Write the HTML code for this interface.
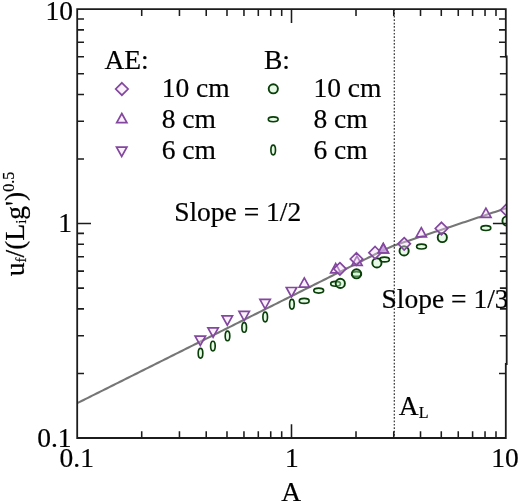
<!DOCTYPE html><html><head><meta charset="utf-8"><style>html,body{margin:0;padding:0;background:#fff;}svg{display:block}text{font-family:"Liberation Serif","Times New Roman",serif;fill:#000;stroke:#000;stroke-width:0.2px}</style></head><body>
<svg width="520" height="503" viewBox="0 0 520 503">
<defs><clipPath id="pa"><rect x="77.2" y="9.1" width="429.7" height="428.9"/></clipPath></defs>
<g clip-path="url(#pa)"><polyline points="77.20,403.18 79.34,402.11 81.49,401.04 83.63,399.97 85.77,398.90 87.92,397.82 90.06,396.75 92.20,395.68 94.34,394.61 96.49,393.54 98.63,392.47 100.77,391.40 102.92,390.33 105.06,389.26 107.20,388.19 109.34,387.11 111.49,386.04 113.63,384.97 115.77,383.90 117.92,382.83 120.06,381.76 122.20,380.69 124.35,379.62 126.49,378.55 128.63,377.48 130.78,376.40 132.92,375.33 135.06,374.26 137.20,373.19 139.35,372.12 141.49,371.05 143.63,369.98 145.78,368.91 147.92,367.84 150.06,366.77 152.20,365.69 154.35,364.62 156.49,363.55 158.63,362.48 160.78,361.41 162.92,360.34 165.06,359.27 167.21,358.20 169.35,357.13 171.49,356.06 173.63,354.98 175.78,353.91 177.92,352.84 180.06,351.77 182.21,350.70 184.35,349.63 186.49,348.56 188.64,347.49 190.78,346.42 192.92,345.35 195.06,344.27 197.21,343.20 199.35,342.13 201.49,341.06 203.64,339.99 205.78,338.92 207.92,337.85 210.07,336.78 212.21,335.71 214.35,334.64 216.50,333.56 218.64,332.49 220.78,331.42 222.92,330.35 225.07,329.28 227.21,328.21 229.35,327.14 231.50,326.07 233.64,325.00 235.78,323.93 237.93,322.85 240.07,321.78 242.21,320.71 244.35,319.64 246.50,318.57 248.64,317.50 250.78,316.43 252.93,315.36 255.07,314.29 257.21,313.22 259.36,312.14 261.50,311.07 263.64,310.00 265.78,308.93 267.93,307.86 270.07,306.79 272.21,305.72 274.36,304.65 276.50,303.58 278.64,302.51 280.79,301.43 282.93,300.36 285.07,299.29 287.21,298.22 289.36,297.15 291.50,296.08 293.64,295.01 295.79,293.94 297.93,292.87 300.07,291.80 302.22,290.72 304.36,289.65 306.50,288.58 308.64,287.51 310.79,286.44 312.93,285.37 315.07,284.30 317.22,283.23 319.36,282.16 321.50,281.09 323.64,280.01 325.79,278.94 327.93,277.87 330.07,276.80 332.22,275.73 334.36,274.66 336.50,273.59 338.65,272.52 340.79,271.45 342.93,270.38 345.07,269.30 347.22,268.23 349.36,267.16 351.50,266.09 353.65,265.02 355.79,263.95 357.93,262.88 360.08,261.81 362.22,260.74 364.36,259.67 366.50,258.59 368.65,257.52 370.79,256.45 372.93,255.38 375.08,254.31 377.22,253.25 379.36,252.18 381.51,251.13 383.65,250.09 385.79,249.08 387.94,248.10 390.08,247.19 392.22,246.34 394.36,245.54 396.51,244.78 398.65,244.04 400.79,243.31 402.94,242.59 405.08,241.87 407.22,241.16 409.37,240.44 411.51,239.73 413.65,239.01 415.79,238.30 417.94,237.59 420.08,236.87 422.22,236.16 424.37,235.44 426.51,234.73 428.65,234.02 430.80,233.30 432.94,232.59 435.08,231.87 437.22,231.16 439.37,230.45 441.51,229.73 443.65,229.02 445.80,228.30 447.94,227.59 450.08,226.88 452.23,226.16 454.37,225.45 456.51,224.73 458.65,224.02 460.80,223.31 462.94,222.59 465.08,221.88 467.23,221.16 469.37,220.45 471.51,219.74 473.66,219.02 475.80,218.31 477.94,217.59 480.08,216.88 482.23,216.17 484.37,215.45 486.51,214.74 488.66,214.02 490.80,213.31 492.94,212.60 495.08,211.88 497.23,211.17 499.37,210.45 501.51,209.74 503.66,209.03 505.80,208.31" fill="none" stroke="#767676" stroke-width="2.1"/>
<line x1="394.3" y1="9.1" x2="394.3" y2="438.0" stroke="#333" stroke-width="1.2" stroke-dasharray="1.7 1.7"/>
<ellipse cx="200.5" cy="353.3" rx="2.3" ry="4.85" fill="#c4f2c4" fill-opacity="0.4" stroke="#0a3f0a" stroke-width="1.65"/>
<ellipse cx="212.9" cy="346.1" rx="2.3" ry="4.85" fill="#c4f2c4" fill-opacity="0.4" stroke="#0a3f0a" stroke-width="1.65"/>
<ellipse cx="227.5" cy="335.9" rx="2.3" ry="4.85" fill="#c4f2c4" fill-opacity="0.4" stroke="#0a3f0a" stroke-width="1.65"/>
<ellipse cx="244.2" cy="327.4" rx="2.3" ry="4.85" fill="#c4f2c4" fill-opacity="0.4" stroke="#0a3f0a" stroke-width="1.65"/>
<ellipse cx="265.2" cy="317" rx="2.3" ry="4.85" fill="#c4f2c4" fill-opacity="0.4" stroke="#0a3f0a" stroke-width="1.65"/>
<ellipse cx="291.9" cy="304.3" rx="2.3" ry="4.85" fill="#c4f2c4" fill-opacity="0.4" stroke="#0a3f0a" stroke-width="1.65"/>
<ellipse cx="304.2" cy="300.9" rx="4.9" ry="2.45" fill="#c4f2c4" fill-opacity="0.4" stroke="#0a3f0a" stroke-width="1.65"/>
<ellipse cx="318.7" cy="290.6" rx="4.9" ry="2.45" fill="#c4f2c4" fill-opacity="0.4" stroke="#0a3f0a" stroke-width="1.65"/>
<ellipse cx="335.6" cy="283.8" rx="4.9" ry="2.45" fill="#c4f2c4" fill-opacity="0.4" stroke="#0a3f0a" stroke-width="1.65"/>
<ellipse cx="356.5" cy="274" rx="4.9" ry="2.45" fill="#c4f2c4" fill-opacity="0.4" stroke="#0a3f0a" stroke-width="1.65"/>
<ellipse cx="384.5" cy="259.5" rx="4.9" ry="2.45" fill="#c4f2c4" fill-opacity="0.4" stroke="#0a3f0a" stroke-width="1.65"/>
<ellipse cx="421.5" cy="246.5" rx="4.9" ry="2.45" fill="#c4f2c4" fill-opacity="0.4" stroke="#0a3f0a" stroke-width="1.65"/>
<ellipse cx="485.9" cy="228" rx="4.9" ry="2.45" fill="#c4f2c4" fill-opacity="0.4" stroke="#0a3f0a" stroke-width="1.65"/>
<circle cx="340.3" cy="283.4" r="4.6" fill="#c4f2c4" fill-opacity="0.4" stroke="#0a3f0a" stroke-width="1.9"/>
<circle cx="356.5" cy="273.8" r="4.6" fill="#c4f2c4" fill-opacity="0.4" stroke="#0a3f0a" stroke-width="1.9"/>
<circle cx="376.9" cy="262.9" r="4.6" fill="#c4f2c4" fill-opacity="0.4" stroke="#0a3f0a" stroke-width="1.9"/>
<circle cx="404.1" cy="250.9" r="4.6" fill="#c4f2c4" fill-opacity="0.4" stroke="#0a3f0a" stroke-width="1.9"/>
<circle cx="442.3" cy="237.5" r="4.6" fill="#c4f2c4" fill-opacity="0.4" stroke="#0a3f0a" stroke-width="1.9"/>
<circle cx="507" cy="221" r="4.6" fill="#c4f2c4" fill-opacity="0.4" stroke="#0a3f0a" stroke-width="1.9"/>
<path d="M195.10 336.10L205.50 336.10L200.30 345.50Z" fill="#f3dcf7" fill-opacity="0.4" stroke="#83479f" stroke-width="1.7"/>
<path d="M207.90 327.80L218.30 327.80L213.10 337.20Z" fill="#f3dcf7" fill-opacity="0.4" stroke="#83479f" stroke-width="1.7"/>
<path d="M222.10 315.80L232.50 315.80L227.30 325.20Z" fill="#f3dcf7" fill-opacity="0.4" stroke="#83479f" stroke-width="1.7"/>
<path d="M239.00 311.40L249.40 311.40L244.20 320.80Z" fill="#f3dcf7" fill-opacity="0.4" stroke="#83479f" stroke-width="1.7"/>
<path d="M259.90 299.40L270.30 299.40L265.10 308.80Z" fill="#f3dcf7" fill-opacity="0.4" stroke="#83479f" stroke-width="1.7"/>
<path d="M286.30 287.50L296.70 287.50L291.50 296.90Z" fill="#f3dcf7" fill-opacity="0.4" stroke="#83479f" stroke-width="1.7"/>
<path d="M304.30 277.90L309.40 287.10L299.20 287.10Z" fill="#f3dcf7" fill-opacity="0.4" stroke="#83479f" stroke-width="1.7"/>
<path d="M335.70 263.60L340.80 272.80L330.60 272.80Z" fill="#f3dcf7" fill-opacity="0.4" stroke="#83479f" stroke-width="1.7"/>
<path d="M357.00 256.10L362.10 265.30L351.90 265.30Z" fill="#f3dcf7" fill-opacity="0.4" stroke="#83479f" stroke-width="1.7"/>
<path d="M383.30 243.60L388.40 252.80L378.20 252.80Z" fill="#f3dcf7" fill-opacity="0.4" stroke="#83479f" stroke-width="1.7"/>
<path d="M421.30 227.70L426.40 236.90L416.20 236.90Z" fill="#f3dcf7" fill-opacity="0.4" stroke="#83479f" stroke-width="1.7"/>
<path d="M485.90 208.20L491.00 217.40L480.80 217.40Z" fill="#f3dcf7" fill-opacity="0.4" stroke="#83479f" stroke-width="1.7"/>
<path d="M339.90 262.60L346.10 268.80L339.90 275.00L333.70 268.80Z" fill="#f3dcf7" fill-opacity="0.4" stroke="#83479f" stroke-width="1.7"/>
<path d="M356.50 252.80L362.70 259.00L356.50 265.20L350.30 259.00Z" fill="#f3dcf7" fill-opacity="0.4" stroke="#83479f" stroke-width="1.7"/>
<path d="M375.10 246.50L381.30 252.70L375.10 258.90L368.90 252.70Z" fill="#f3dcf7" fill-opacity="0.4" stroke="#83479f" stroke-width="1.7"/>
<path d="M404.20 237.60L410.40 243.80L404.20 250.00L398.00 243.80Z" fill="#f3dcf7" fill-opacity="0.4" stroke="#83479f" stroke-width="1.7"/>
<path d="M441.50 222.30L447.70 228.50L441.50 234.70L435.30 228.50Z" fill="#f3dcf7" fill-opacity="0.4" stroke="#83479f" stroke-width="1.7"/>
<path d="M506.80 203.80L513.00 210.00L506.80 216.20L500.60 210.00Z" fill="#f3dcf7" fill-opacity="0.4" stroke="#83479f" stroke-width="1.7"/>
<path d="M383.30 243.60L388.40 252.80L378.20 252.80Z" fill="#c39bd8" fill-opacity="0.85" stroke="#83479f" stroke-width="1.7"/>
</g>
<path d="M121.90 82.80L128.10 89.00L121.90 95.20L115.70 89.00Z" fill="#f3dcf7" fill-opacity="0.4" stroke="#83479f" stroke-width="1.7"/>
<path d="M121.80 113.50L126.90 122.70L116.70 122.70Z" fill="#f3dcf7" fill-opacity="0.4" stroke="#83479f" stroke-width="1.7"/>
<path d="M116.50 147.10L126.90 147.10L121.70 156.50Z" fill="#f3dcf7" fill-opacity="0.4" stroke="#83479f" stroke-width="1.7"/>
<circle cx="273.3" cy="88.8" r="4.6" fill="#c4f2c4" fill-opacity="0.4" stroke="#0a3f0a" stroke-width="1.9"/>
<ellipse cx="273.2" cy="119.3" rx="4.9" ry="2.45" fill="#c4f2c4" fill-opacity="0.4" stroke="#0a3f0a" stroke-width="1.65"/>
<ellipse cx="273.2" cy="150.0" rx="2.3" ry="4.85" fill="#c4f2c4" fill-opacity="0.4" stroke="#0a3f0a" stroke-width="1.65"/>
<path d="M77.2 9.1H505.8V56.5H506.7V364H505.8V438.0H77.2Z" fill="none" stroke="#1c1c1c" stroke-width="1.8" stroke-linejoin="miter"/>
<path d="M141.71 438.0v-6.8M141.71 9.1v6.8M77.2 373.44h6.8M505.8 373.44h-6.8M179.45 438.0v-6.8M179.45 9.1v6.8M77.2 335.68h6.8M506.7 335.68h-6.8M206.22 438.0v-6.8M206.22 9.1v6.8M77.2 308.89h6.8M506.7 308.89h-6.8M226.99 438.0v-6.8M226.99 9.1v6.8M77.2 288.11h6.8M506.7 288.11h-6.8M243.96 438.0v-6.8M243.96 9.1v6.8M77.2 271.13h6.8M506.7 271.13h-6.8M258.30 438.0v-6.8M258.30 9.1v6.8M77.2 256.77h6.8M506.7 256.77h-6.8M270.73 438.0v-6.8M270.73 9.1v6.8M77.2 244.33h6.8M506.7 244.33h-6.8M281.69 438.0v-6.8M281.69 9.1v6.8M77.2 233.36h6.8M506.7 233.36h-6.8M291.50 438.0v-13.8M291.50 9.1v13.8M77.2 223.55h13.8M506.7 223.55h-13.8M356.01 438.0v-6.8M356.01 9.1v6.8M77.2 158.99h6.8M506.7 158.99h-6.8M393.75 438.0v-6.8M393.75 9.1v6.8M77.2 121.23h6.8M506.7 121.23h-6.8M420.52 438.0v-6.8M420.52 9.1v6.8M77.2 94.44h6.8M506.7 94.44h-6.8M441.29 438.0v-6.8M441.29 9.1v6.8M77.2 73.66h6.8M506.7 73.66h-6.8M458.26 438.0v-6.8M458.26 9.1v6.8M77.2 56.68h6.8M506.7 56.68h-6.8M472.60 438.0v-6.8M472.60 9.1v6.8M77.2 42.32h6.8M505.8 42.32h-6.8M485.03 438.0v-6.8M485.03 9.1v6.8M77.2 29.88h6.8M505.8 29.88h-6.8M495.99 438.0v-6.8M495.99 9.1v6.8M77.2 18.91h6.8M505.8 18.91h-6.8" stroke="#1c1c1c" stroke-width="1.55" fill="none"/>
<text x="73" y="20.4" font-size="27.5" text-anchor="end">10</text>
<text x="72" y="232.4" font-size="27.5" text-anchor="end">1</text>
<text x="71.6" y="446.6" font-size="27.5" text-anchor="end">0.1</text>
<text x="76.7" y="466.6" font-size="27.5" text-anchor="middle">0.1</text>
<text x="291.9" y="466.8" font-size="27.5" text-anchor="middle">1</text>
<text x="505" y="466.8" font-size="27.5" text-anchor="middle">10</text>
<text x="291.3" y="501.4" font-size="27.5" text-anchor="middle">A</text>
<text x="104.4" y="68.5" font-size="27.5" text-anchor="start">AE:</text>
<text x="264" y="68.5" font-size="27.5" text-anchor="start">B:</text>
<text x="161.7" y="97.2" font-size="27.5" text-anchor="start">10 cm</text>
<text x="161.7" y="128.2" font-size="27.5" text-anchor="start">8 cm</text>
<text x="161.7" y="158.6" font-size="27.5" text-anchor="start">6 cm</text>
<text x="313.4" y="97.2" font-size="27.5" text-anchor="start">10 cm</text>
<text x="313.4" y="128.2" font-size="27.5" text-anchor="start">8 cm</text>
<text x="313.4" y="158.6" font-size="27.5" text-anchor="start">6 cm</text>
<text x="174.2" y="220.6" font-size="27.5" text-anchor="start">Slope = 1/2</text>
<g clip-path="url(#pa)"><text x="381.5" y="308.3" font-size="27.5" text-anchor="start">Slope = 1/3</text></g>
<text x="398.8" y="415.4" font-size="27.5">A<tspan font-size="16" dy="2.7">L</tspan></text>
<text transform="translate(23.5,276.2) rotate(-90)" font-size="27.5">u<tspan font-size="15" dy="2.6">f</tspan><tspan dy="-2.6">/(L</tspan><tspan font-size="15" dy="2.6">i</tspan><tspan dy="-2.6">g')</tspan><tspan font-size="16" dy="-9.6">0.5</tspan></text>
</svg></body></html>
